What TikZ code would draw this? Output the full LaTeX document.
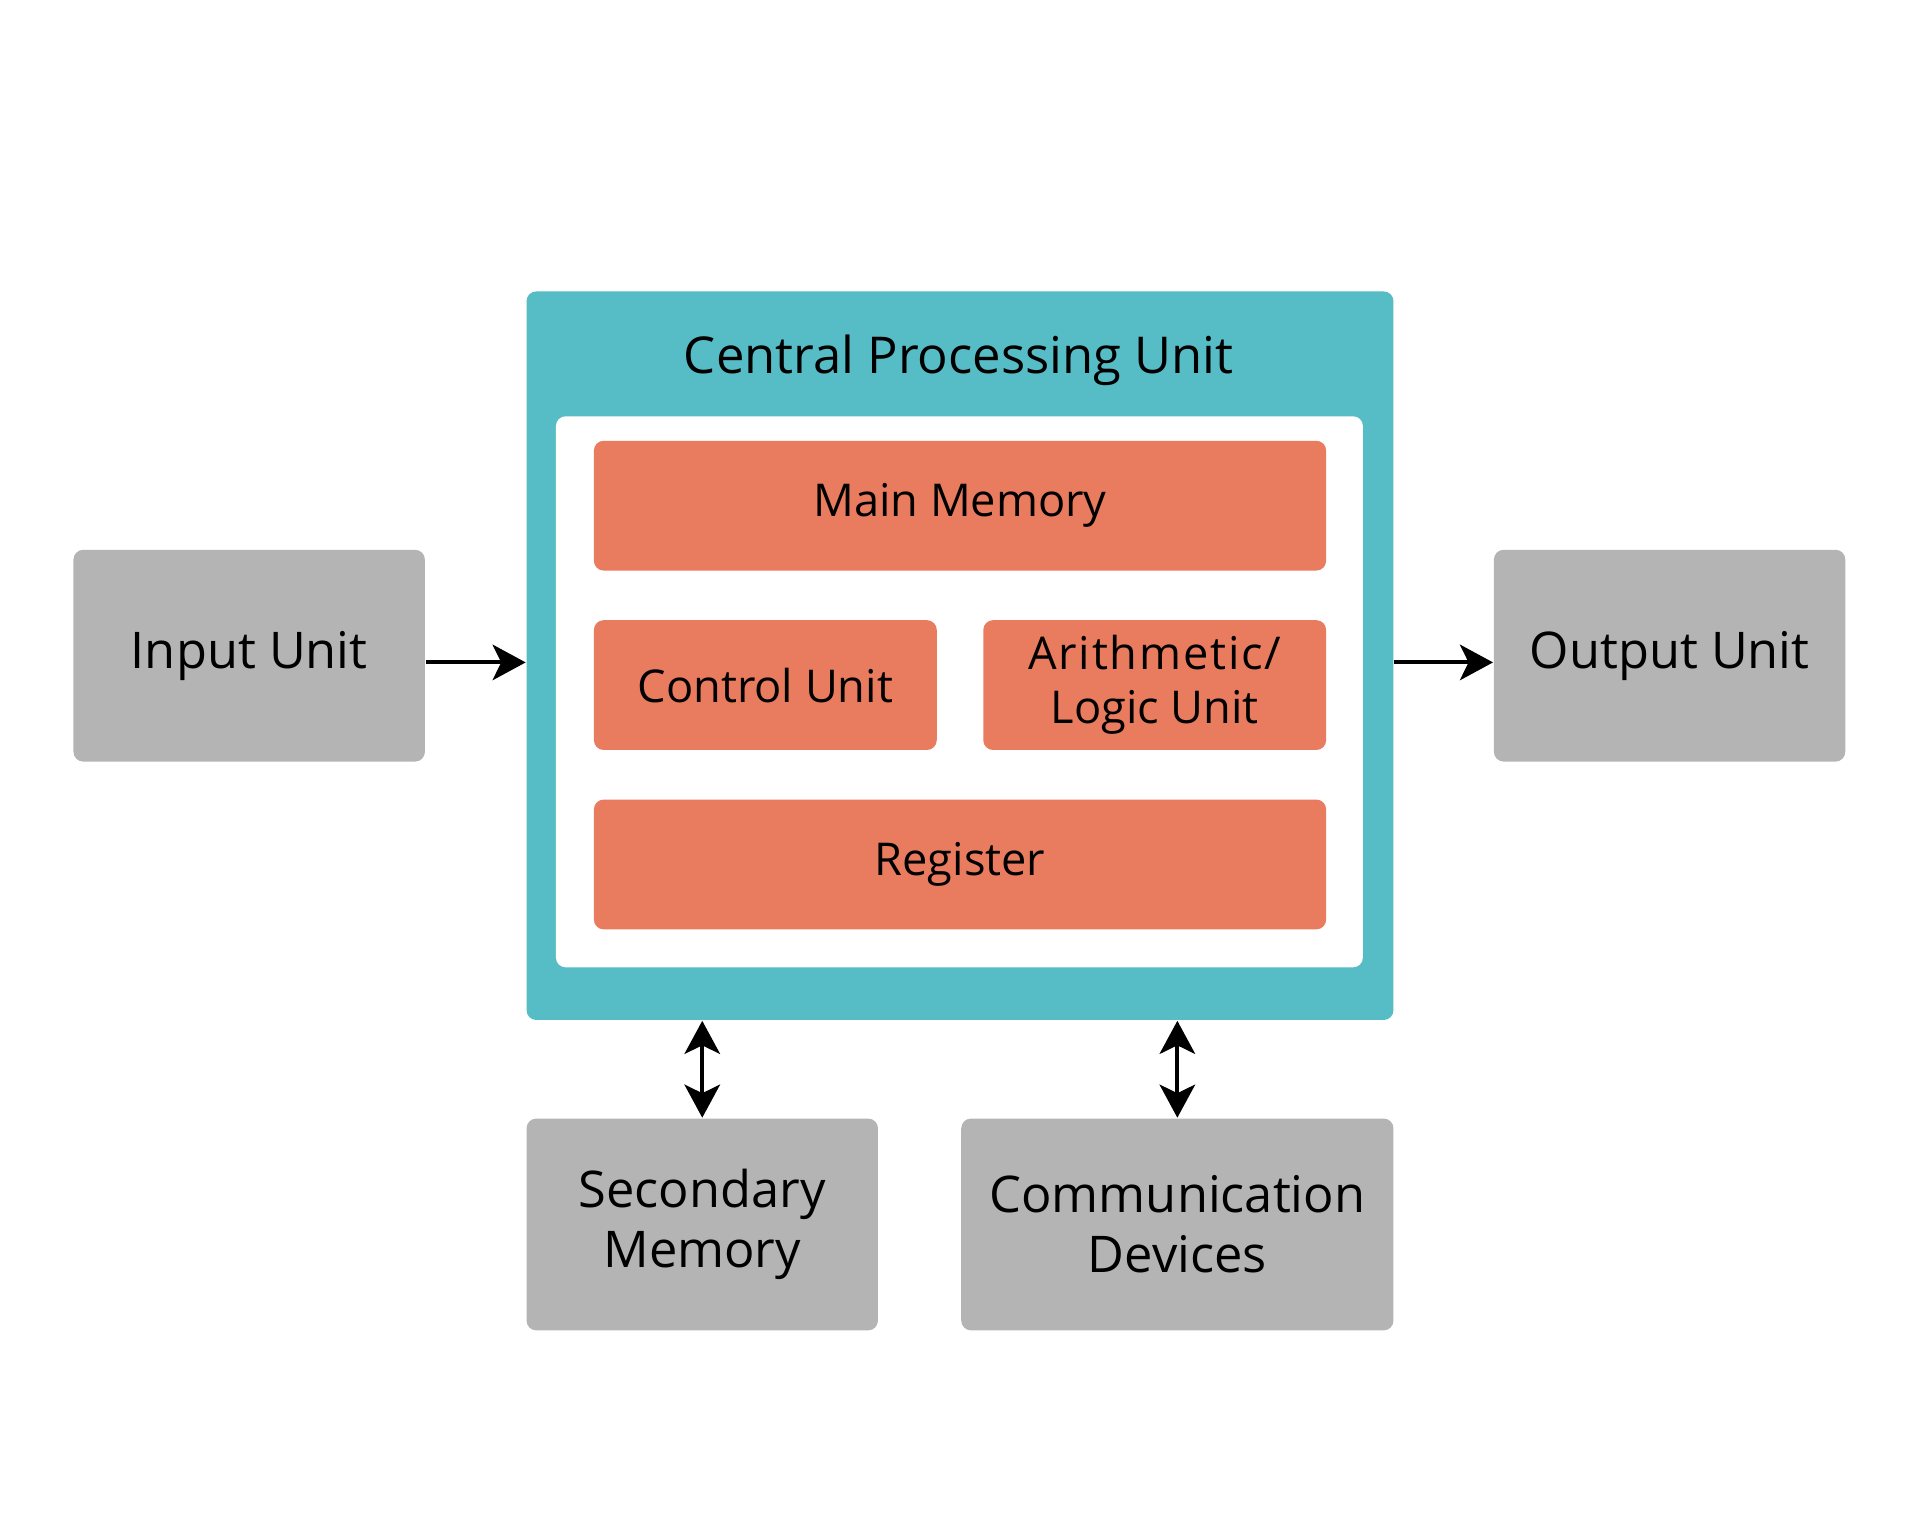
\documentclass[tikz,border=0pt]{standalone}
\usepackage{fontspec}
\setmainfont{Open Sans}
\usetikzlibrary{arrows.meta}
\definecolor{cputeal}{RGB}{86,188,198}
\definecolor{unitorange}{RGB}{233,123,94}
\definecolor{iogray}{RGB}{179,180,179}
\begin{document}
\begin{tikzpicture}[
  box/.style={rectangle, rounded corners=0.08cm, inner sep=0pt, align=center},
  iobox/.style={box, fill=iogray, minimum height=1.73cm, font=\fontsize{11.75}{14}\selectfont},
  unitbox/.style={box, fill=unitorange, minimum height=1.06cm, font=\fontsize{10.5}{12.6}\selectfont},
  tip/.tip={Stealth[length=2.7mm, width=2.9mm, inset=0.7mm]},
  arr/.style={-tip, line width=0.9pt},
  arrtwo/.style={tip-tip, line width=0.9pt}
]
\useasboundingbox (0,0) rectangle (15.68,12.54);
\node[box, fill=cputeal, minimum width=7.08cm, minimum height=5.95cm] (cpu) at (7.84, 7.185) {};
\node[box, fill=white, minimum width=6.59cm, minimum height=4.50cm] (inner) at (7.835, 6.89) {};
\node[font=\fontsize{11.8}{14}\selectfont] (cputitle) at (7.83, 9.60) {Central Processing Unit};
\node[unitbox, minimum width=5.98cm] (mainmem) at (7.84, 8.41) {Main Memory};
\node[unitbox, minimum width=2.80cm] (control) at (6.25, 6.945) {Control Unit};
\node[unitbox, minimum width=2.80cm] (alu) at (9.43, 6.945) {{\addfontfeature{LetterSpace=4}Arithmetic/}\\Logic Unit};
\node[unitbox, minimum width=5.98cm] (register) at (7.84, 5.48) {Register};
\node[iobox, minimum width=2.87cm] (input) at (2.035, 7.185) {Input Unit};
\node[iobox, minimum width=2.87cm] (output) at (13.635, 7.185) {Output Unit};
\node[iobox, minimum width=2.87cm] (secmem) at (5.735, 2.54) {Secondary\\Memory};
\node[iobox, minimum width=3.53cm] (comm) at (9.615, 2.54) {Communication\\Devices};
\draw[arr] ([yshift=-0.55mm]input.east) -- ([yshift=-0.55mm]cpu.west);
\draw[arr] ([yshift=-0.55mm]cpu.east) -- ([yshift=-0.55mm]output.west);
\draw[arrtwo] (secmem.north |- cpu.south) -- (secmem.north);
\draw[arrtwo] (comm.north |- cpu.south) -- (comm.north);
\end{tikzpicture}
\end{document}
